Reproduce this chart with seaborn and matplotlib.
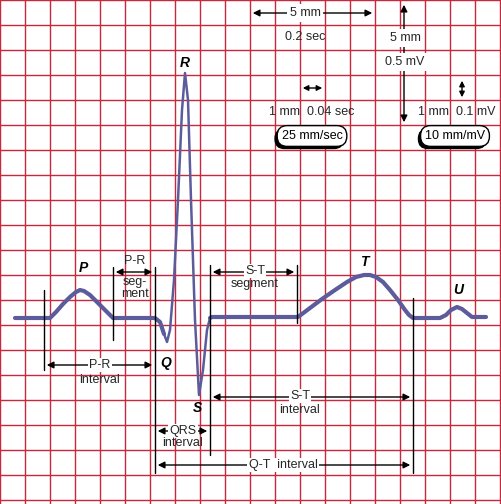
import numpy as np
import matplotlib
matplotlib.use("Agg")
import matplotlib.pyplot as plt
import matplotlib.patheffects as pe
import seaborn as sns
import pandas as pd

sns.set_theme(style="white")
plt.rcParams['font.family'] = ['Liberation Sans', 'DejaVu Sans']

# trace points in image pixels (x right, y down)
trace_x = [15, 50, 56, 63, 70, 76, 80, 84, 90, 97, 105, 113, 155, 160, 164,
           167, 170, 174, 178, 182, 185, 188, 191, 195, 199, 203, 207,
           210, 212, 298, 310, 322, 335, 347, 356, 364, 370, 376, 383, 390, 398, 405, 409, 413,
           440, 446, 451, 457, 462, 467, 472, 486]
trace_y = [318, 318, 312, 304, 297, 292, 290, 291, 295, 302, 310, 318, 318, 322, 334,
           342, 330, 280, 200, 110, 73, 100, 200, 320, 395, 370, 330,
           318, 317, 317, 308, 299, 290, 282, 277, 275, 275, 277, 282, 290, 300, 310, 315, 318,
           318, 315, 310, 307, 309, 313, 317, 317]

wave_names = ["P", "Q", "R", "S", "T", "U"]
wave_pos = [(83, 268), (166, 363), (185, 63), (197, 408), (364, 262), (458, 290)]

# vertical marker lines: x, y_top, y_bottom
vlines = [(44, 290, 370), (113, 267, 340), (155, 267, 473),
          (210, 265, 455), (297, 265, 323), (413, 298, 473)]

# interval arrows: x0, x1, y, label lines, label x, label y
intervals = [
    (113, 155, 272, ["P-R", "seg-", "ment"], 135, [261, 282, 294]),
    (210, 297, 272, ["S-T", "segment"], 255, [271, 284]),
    (44, 155, 365, ["P-R", "interval"], 100, [365, 380]),
    (210, 413, 397, ["S-T", "interval"], 300, [396, 410]),
    (155, 210, 431, ["QRS", "interval"], 183, [431, 443]),
    (155, 413, 465, ["Q-T  interval"], 283, [465]),
]

fig = plt.figure(figsize=(5.01, 5.04), dpi=100)
ax = fig.add_axes([0, 0, 1, 1])
ax.set_xlim(0, 501)
ax.set_ylim(504, 0)
grid_col = "#c8283c"
for g in np.arange(0, 501, 25):
    ax.axvline(g, color=grid_col, lw=1)
for g in np.arange(0, 504, 25):
    ax.axhline(g, color=grid_col, lw=1)
ax.axis("off")

df = pd.DataFrame({"x": trace_x, "y": trace_y})
tc = "#5c5c9c"
sns.lineplot(data=df.iloc[:15], x="x", y="y", sort=False, ax=ax, color=tc, lw=3)
sns.lineplot(data=df.iloc[14:28], x="x", y="y", sort=False, ax=ax, color=tc, lw=1.8)
sns.lineplot(data=df.iloc[27:], x="x", y="y", sort=False, ax=ax, color=tc, lw=3)

for name, (px, py) in zip(wave_names, wave_pos):
    ax.text(px, py, name, ha="center", va="center", fontsize=10,
            fontstyle="italic", fontweight="bold", color="black")

for x, y0, y1 in vlines:
    ax.plot([x, x], [y0, y1], color="black", lw=1)

fs = 9
wb = dict(facecolor="white", edgecolor="none", pad=1)
for x0, x1, y, lines, lx, lys in intervals:
    ax.annotate("", xy=(x0, y), xytext=(x1, y),
                arrowprops=dict(arrowstyle="<|-|>", color="black", lw=1, mutation_scale=10))
    for t, ly in zip(lines, lys):
        ax.text(lx, ly, t, ha="center", va="center", fontsize=fs,
                bbox=wb if abs(ly - y) < 3 else None)

# calibration
ax.annotate("", xy=(250, 13), xytext=(375, 13),
            arrowprops=dict(arrowstyle="<|-|>", color="black", lw=1, mutation_scale=10))
ax.text(305, 13, "5 mm", ha="center", va="center", fontsize=fs,
        bbox=dict(facecolor="white", edgecolor="none", pad=2))
ax.text(305, 37, "0.2 sec", ha="center", va="center", fontsize=fs)
ax.annotate("", xy=(300, 88), xytext=(325, 88),
            arrowprops=dict(arrowstyle="<|-|>", color="black", lw=1, mutation_scale=8))
ax.text(312, 112, "1 mm  0.04 sec", ha="center", va="center", fontsize=fs)
ax.annotate("", xy=(404, 2), xytext=(404, 125),
            arrowprops=dict(arrowstyle="<|-|>", color="black", lw=1, mutation_scale=10))
ax.text(405, 38, "5 mm", ha="center", va="center", fontsize=fs,
        bbox=dict(facecolor="white", edgecolor="none", pad=2))
ax.text(405, 62, "0.5 mV", ha="center", va="center", fontsize=fs,
        bbox=dict(facecolor="white", edgecolor="none", pad=2))
ax.annotate("", xy=(462, 78), xytext=(462, 100),
            arrowprops=dict(arrowstyle="<|-|>", color="black", lw=1, mutation_scale=8))
ax.text(457, 112, "1 mm  0.1 mV", ha="center", va="center", fontsize=fs)

for bx, label in [(312, "25 mm/sec"), (455, "10 mm/mV")]:
    t = ax.text(bx, 136, label, ha="center", va="center", fontsize=fs, color="black",
                bbox=dict(boxstyle="round,pad=0.35,rounding_size=0.8",
                          facecolor="white", edgecolor="black"))
    t.get_bbox_patch().set_path_effects([
        pe.SimplePatchShadow(offset=(-2, -2), shadow_rgbFace="black", alpha=1),
        pe.Normal()])

fig.savefig("out.png", dpi=100)
